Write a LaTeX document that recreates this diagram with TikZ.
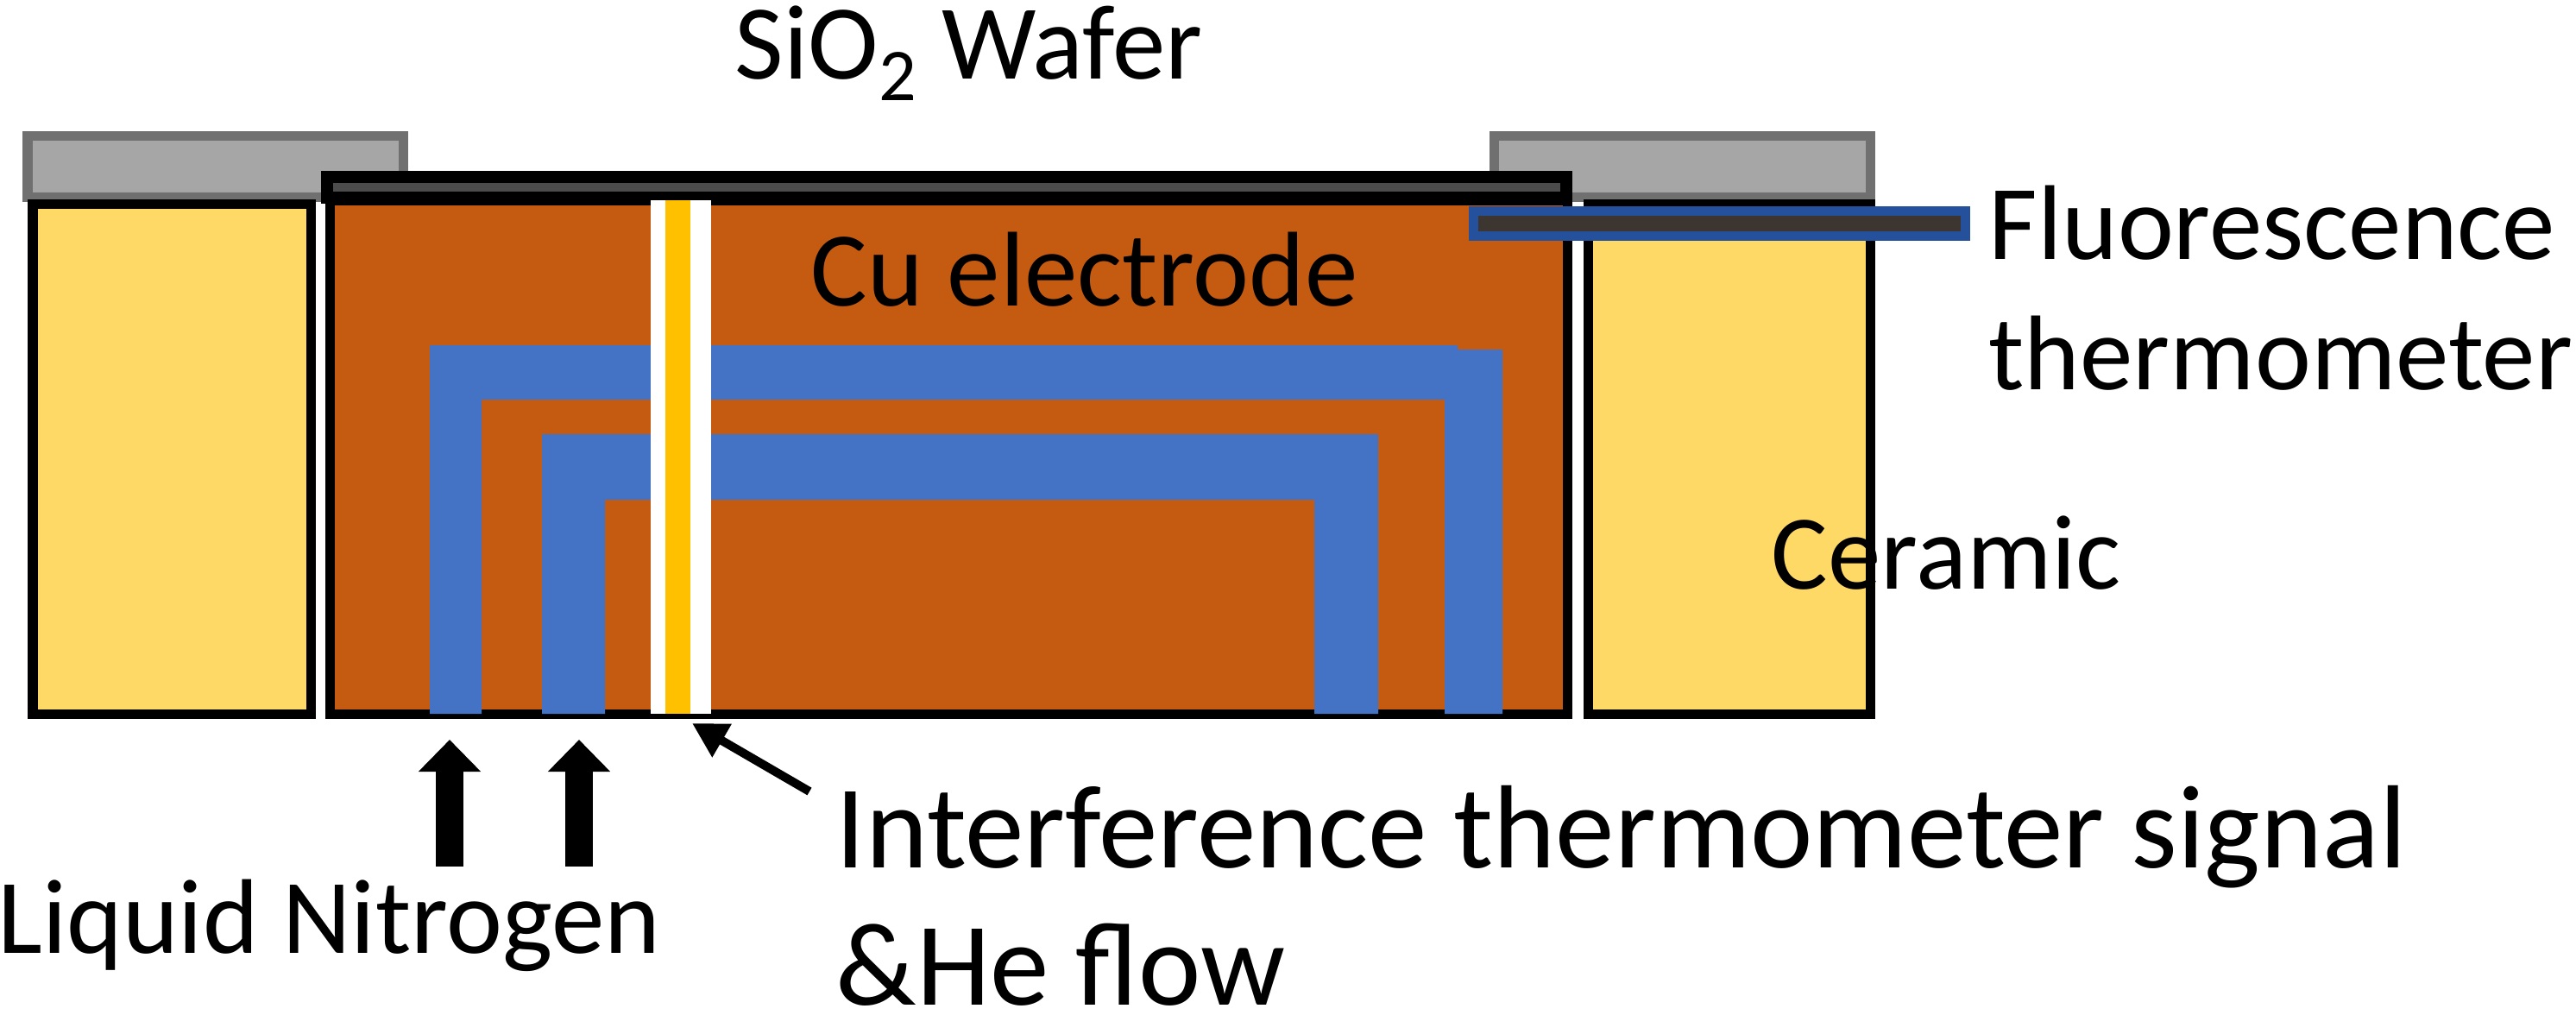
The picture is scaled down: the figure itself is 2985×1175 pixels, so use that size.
\documentclass[tikz,border=0pt]{standalone}
\usepackage{fontspec}
\setmainfont{Carlito}
\usepackage{tikz}
\usetikzlibrary{arrows.meta}

\definecolor{ceramicyellow}{HTML}{FFD966}
\definecolor{copper}{HTML}{C55A11}
\definecolor{coolblue}{HTML}{4472C4}
\definecolor{probeblue}{HTML}{25509C}
\definecolor{probecore}{HTML}{3C3530}
\definecolor{signalgold}{HTML}{FFC000}

\begin{document}
\begin{tikzpicture}[
  x=0.01cm, y=-0.01cm,
  ceramic/.style={draw=black, line width=0.11cm, fill=ceramicyellow},
  clamp/.style={draw=black!56, line width=0.11cm, fill=black!35},
  electrode/.style={draw=black, line width=0.11cm, fill=copper},
  wafer/.style={draw=black, line width=0.14cm, fill=black!70},
  coolant/.style={fill=coolblue},
  flowarrow/.style={line width=0.32cm, -{Triangle[length=0.37cm,width=0.7cm]}},
  label/.style={anchor=base west, inner sep=0pt, font=\fontsize{35}{35}\selectfont},
  labelbig/.style={label, font=\fontsize{39}{39}\selectfont}
]
\useasboundingbox (0,0) rectangle (2985,1175);

% Clamps
\draw[clamp] (32,157) rectangle (467,228);
\draw[clamp] (1731,157) rectangle (2167,228);

% Ceramic
\draw[ceramic] (38,236) rectangle (360,827);
\draw[ceramic] (1840,236) rectangle (2167,827);

% Cu electrode and wafer
\draw[electrode] (382,232) rectangle (1816,827);
\draw[wafer] (379,205) rectangle (1815,229);

% Outer coolant channel
\fill[coolant] (498,400) -- (1689,400) -- (1689,405) -- (1741,405) -- (1741,827)
  -- (1674,827) -- (1674,463) -- (558,463) -- (558,827) -- (498,827) -- cycle;

% Inner coolant channel
\fill[coolant] (628,503) -- (1597,503) -- (1597,827) -- (1523,827) -- (1523,579)
  -- (701,579) -- (701,827) -- (628,827) -- cycle;

% Signal channel
\fill[white] (754,232) rectangle (824,827);
\fill[signalgold] (771,232) rectangle (800,827);

% Fluorescence probe
\draw[draw=probeblue, line width=0.11cm, fill=probecore] (1707,244) rectangle (2277,273);

% Arrows
\coordinate (flowa) at (521,1004);
\coordinate (flowatip) at (521,857);
\coordinate (flowb) at (671,1004);
\coordinate (flowbtip) at (671,857);
\coordinate (signal) at (938,917);
\coordinate (signaltip) at (802,838);
\draw[flowarrow] (flowa) -- (flowatip);
\draw[flowarrow] (flowb) -- (flowbtip);
\draw[line width=0.1cm, -{Triangle[length=0.4cm,width=0.42cm]}] (signal) -- (signaltip);

% Labels
\node[label] (waferlabel) at (851,91) {SiO\textsubscript{2} Wafer};
\node[label] (culabel) at (939,354) {Cu electrode};
\node[label] (fluolabel) at (2304,300) {Fluorescence};
\node[label] (thermolabel) at (2304,451) {thermometer};
\node[label] (ceramiclabel) at (2052,682) {Ceramic};
\node[labelbig] (signallabel) at (968,1005) {Interference thermometer signal};
\node[labelbig] (helabel) at (968,1164) {\&He flow};
\node[label] (nitrogenlabel) at (-3,1104) {Liquid Nitrogen};

\end{tikzpicture}
\end{document}
